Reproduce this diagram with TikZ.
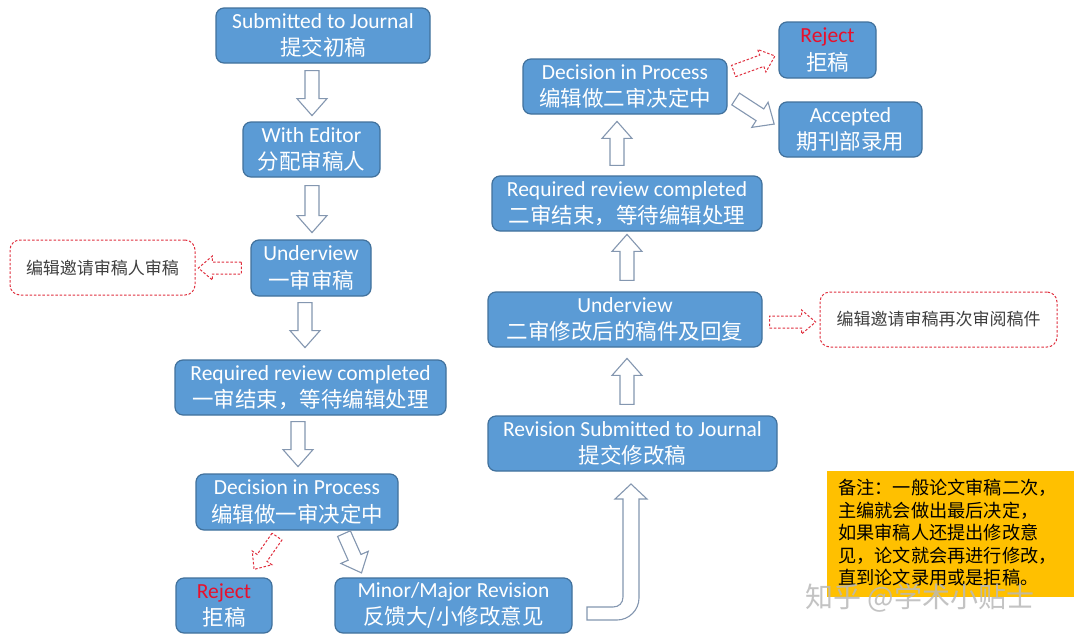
\documentclass[tikz,border=0pt]{standalone}
\usepackage{fontspec}
\setmainfont{Carlito}
\newfontfamily\cjk{Noto Sans CJK SC}
\usetikzlibrary{calc}
\definecolor{boxblue}{HTML}{5B9BD5}
\definecolor{boxedge}{HTML}{41719C}
\definecolor{arrowedge}{HTML}{8497B0}
\definecolor{dashred}{HTML}{E0303F}
\definecolor{rejred}{HTML}{E8102C}
\definecolor{notebg}{HTML}{FFC000}
\definecolor{darktext}{HTML}{404040}
\newcommand\zh{\cjk}
\tikzset{
 flowbox/.style={draw=boxedge, line width=1.2pt, fill=boxblue, rounded corners=8pt, text=white, align=center, minimum height=55pt, inner sep=0pt, font=\fontsize{21.5}{27.5}\selectfont},
 remarkbox/.style={draw=dashred, dash pattern=on 2.5pt off 1.8pt, line width=1pt, rounded corners=10pt, minimum height=55pt, inner sep=0pt, text=darktext, font=\cjk\fontsize{17}{20}\selectfont},
 hollow/.style={draw=arrowedge, fill=white, line width=1.1pt, line join=miter},
 redhollow/.style={draw=dashred, fill=white, line width=1pt, dash pattern=on 2.5pt off 1.8pt},
 pics/blk/.style args={#1/#2/#3/#4/#5}{code={\draw[#5] (0,#2) -- ({#1-#4},#2) -- ({#1-#4},#3) -- (#1,0) -- ({#1-#4},-#3) -- ({#1-#4},-#2) -- (0,-#2) -- cycle;}}
}
\begin{document}
\begin{tikzpicture}[x=1pt,y=-1pt]
\useasboundingbox[fill=white] (0,0) rectangle (1080,641);

% left column
\node[flowbox, minimum width=214pt] (b1) at (323,35.5) {Submitted to Journal\\\zh 提交初稿};
\node[flowbox, minimum width=137pt] (b2) at (311.5,149.5) {With Editor\\\zh 分配审稿人};
\node[flowbox, minimum width=120pt, minimum height=56pt] (b3) at (311,268) {Underview\\\zh 一审审稿};
\node[flowbox, minimum width=271pt] (b4) at (310.5,387.5) {Required review completed\\\zh 一审结束，等待编辑处理};
\node[flowbox, minimum width=202pt, minimum height=56pt] (b5) at (297,502) {Decision in Process\\\zh 编辑做一审决定中};
\node[flowbox, minimum width=96pt] (b6) at (224,605.5) {{\color{rejred}Reject}\\\zh 拒稿};
\node[flowbox, minimum width=237pt] (b7) at (453.5,605.5) {Minor/Major Revision\\\zh 反馈大/小修改意见};

% right column
\node[flowbox, minimum width=289pt] (b8) at (632.5,443.5) {Revision Submitted to Journal\\\zh 提交修改稿};
\node[flowbox, minimum width=274pt] (b9) at (625,319.5) {Underview\\\zh 二审修改后的稿件及回复};
\node[flowbox, minimum width=270pt] (b10) at (627,203.5) {Required review completed\\\zh 二审结束，等待编辑处理};
\node[flowbox, minimum width=204pt] (b11) at (625,86.5) {Decision in Process\\\zh 编辑做二审决定中};
\node[flowbox, minimum width=97pt, minimum height=56pt] (b12) at (827.5,50) {{\color{rejred}Reject}\\\zh 拒稿};
\node[flowbox, minimum width=143pt] (b13) at (850.5,129.5) {Accepted\\\zh 期刊部录用};

% dashed remark boxes
\node[remarkbox, minimum width=185pt] (d1) at (102.5,267.5) {编辑邀请审稿人审稿};
\node[remarkbox, minimum width=237pt] (d2) at (938.5,319.5) {编辑邀请审稿再次审阅稿件};

% note
\node[fill=notebg, minimum width=247pt, minimum height=126pt, anchor=north west, inner sep=0pt] (note) at (827,471) {};
\node[anchor=north west, inner sep=0pt, align=left, font=\cjk\fontsize{18.2}{22.5}\selectfont] (notetext) at (838,479) {备注：一般论文审稿二次，\\主编就会做出最后决定，\\如果审稿人还提出修改意\\见，论文就会再进行修改，\\直到论文录用或是拒稿。};

% block arrows
\pic[rotate=-90] at ([shift={(-11,7)}]b1.south) {blk=45/7/15/17/hollow};
\pic[rotate=-90] at ([shift={(0.5,8)}]b2.south) {blk=47/7/15/17/hollow};
\pic[rotate=-90] at ([shift={(-6,6)}]b3.south) {blk=45/7/15/17/hollow};
\pic[rotate=-90] at ([shift={(-12.5,6)}]b4.south) {blk=45/7/15/17/hollow};
\pic[rotate=-125] at ([shift={(-20,6)}]b5.south) {blk=40/6/12/14/redhollow};
\pic[rotate=-66] at ([shift={(47,3)}]b5.south) {blk=43/7/15/17/hollow};
\pic[rotate=90] at ([shift={(-5.5,-11)}]b8.north) {blk=46/7/15/17/hollow};
\pic[rotate=90] at ([shift={(2,-11)}]b9.north) {blk=46/7/15/17/hollow};
\pic[rotate=90] at ([shift={(-10,-10)}]b10.north) {blk=44/7/15/17/hollow};
\pic[rotate=20] at ([shift={(6,-15.5)}]b11.east) {blk=44/6/12/14/redhollow};
\pic[rotate=-33] at ([shift={(8,12.5)}]b11.east) {blk=46/7/15/17/hollow};
\pic[rotate=180] at ([shift={(-9,0)}]b3.west) {blk=43/6/12/14/redhollow};
\pic[rotate=0] at ([shift={(7,2.5)}]b9.east) {blk=46/6/12/14/redhollow};

% J-shaped arrow from Minor/Major Revision up to Revision Submitted
\draw[hollow] (587,607) -- (613,607) .. controls (619,607) and (623,603) .. (623,597) -- (623,499) -- (615,499) -- (631,484) -- (647,499) -- (639,499) -- (639,598) .. controls (639,610) and (629,620) .. (617,620) -- (587,620) -- cycle;

% watermark
\node[font=\cjk\fontsize{28}{28}\selectfont, text=gray!55, opacity=0.85] (wm) at (920,598) {知乎 @学术小贴士};
\end{tikzpicture}
\end{document}
